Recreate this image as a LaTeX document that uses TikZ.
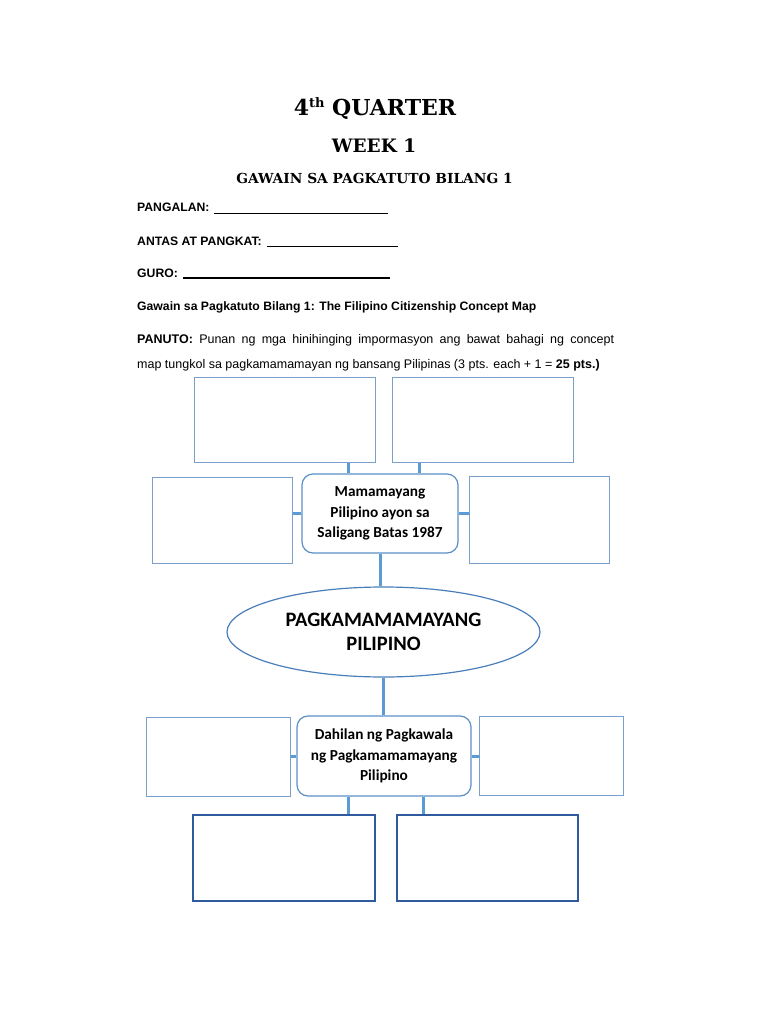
\documentclass[tikz,border=0pt]{standalone}
\usepackage{fontspec}
\setmainfont{Liberation Sans}
\newfontfamily\headfont{DejaVu Serif}
\newfontfamily\mapfont{Carlito}
\usetikzlibrary{shapes.geometric,calc}
\definecolor{boxblue}{HTML}{7A9FCE}
\definecolor{connblue}{HTML}{5B9BD5}
\definecolor{rboxblue}{HTML}{5B8FC7}
\definecolor{darkblue}{HTML}{2F5A9E}
\definecolor{ellblue}{HTML}{4A7EBB}
\begin{document}
\begin{tikzpicture}[x=1pt,y=-1pt,
  txt/.style={inner sep=0pt, anchor=base west},
  ctxt/.style={inner sep=0pt, anchor=base},
  blank/.style={draw=boxblue, line width=1pt, inner sep=0pt},
  darkblank/.style={draw=darkblue, line width=1.8pt, inner sep=0pt},
  rbox/.style={draw=rboxblue, line width=1.2pt, rounded corners=11pt, inner sep=0pt,
     font=\mapfont\bfseries\fontsize{15.3}{20.5}\selectfont, align=center},
  conn/.style={draw=connblue, line width=3pt},
  uline/.style={draw=black, line width=0.8pt}]
\useasboundingbox (0,0) rectangle (768,1024);
\fill[white] (0,0) rectangle (768,1024);

% headings
\node[ctxt, font=\headfont\bfseries\fontsize{22}{26}\selectfont] (h1) at (375,116) {4{\fontsize{13}{13}\selectfont\raisebox{8pt}{th}} QUARTER};
\node[ctxt, font=\headfont\bfseries\fontsize{18.5}{22}\selectfont] (h2) at (374,153) {WEEK 1};
\node[ctxt, font=\headfont\bfseries\fontsize{13.8}{16}\selectfont] (h3) at (374.5,184) {GAWAIN SA PAGKATUTO BILANG 1};

% form lines
\node[txt, font=\bfseries\fontsize{12.2}{14}\selectfont] (pang) at (137,212) {PANGALAN:};
\coordinate (pangend) at (388,213);
\draw[uline] (pang.base east) ++(4,1) -- (pangend);
\node[txt, font=\bfseries\fontsize{12.2}{14}\selectfont] (antas) at (137,245) {ANTAS AT PANGKAT:};
\coordinate (antasend) at (398,246);
\draw[uline] (antas.base east) ++(5,1) -- (antasend);
\node[txt, font=\bfseries\fontsize{12.2}{14}\selectfont] (guro) at (137,277) {GURO:};
\coordinate (guroend) at (390,278);
\draw[draw=black, line width=1.6pt] (guro.base east) ++(5,1) -- (guroend);

\node[txt, font=\bfseries\fontsize{12.2}{14}\selectfont] (gawain) at (137,310) {Gawain sa Pagkatuto Bilang 1: The Filipino Citizenship Concept Map};
\node[txt, font=\fontsize{12.5}{14}\selectfont] (pan1) at (137,343) {\makebox[477pt][s]{\textbf{PANUTO:} Punan ng mga hinihinging impormasyon ang bawat bahagi ng concept}};
\node[txt, font=\fontsize{12.5}{14}\selectfont] (pan2) at (137,368) {map tungkol sa pagkamamamayan ng bansang Pilipinas (3 pts. each + 1 = \textbf{25 pts.)}};

% upper cluster
\node[blank, minimum width=181pt, minimum height=85pt] (tl) at (284.5,419.5) {};
\node[blank, minimum width=181pt, minimum height=85pt] (tr) at (482.5,419.5) {};
\node[blank, minimum width=140pt, minimum height=86pt] (ml) at (222,520) {};
\node[blank, minimum width=140pt, minimum height=87pt] (mr) at (539,519.5) {};
\node[rbox, minimum width=156pt, minimum height=79pt] (c1) at (380,513.5)
  {Mamamayang\\Pilipino ayon sa\\Saligang Batas 1987};

% ellipse
\node[ellipse, draw=ellblue, line width=1.2pt, minimum width=313pt, minimum height=90pt,
  inner sep=0pt, align=center, font=\mapfont\bfseries\fontsize{20.5}{24}\selectfont] (ell) at (383.5,632)
  {\raisebox{-2pt}{PAGKAMAMAMAYANG}\\\raisebox{-2pt}{PILIPINO}};

% lower cluster
\node[rbox, minimum width=174pt, minimum height=80pt] (c2) at (384,756)
  {Dahilan ng Pagkawala\\ng Pagkamamamayang\\Pilipino};
\node[blank, minimum width=144pt, minimum height=79pt] (bl) at (218,756.5) {};
\node[blank, minimum width=144pt, minimum height=79pt] (br) at (551,755.5) {};
\node[darkblank, minimum width=182pt, minimum height=86pt] (dl) at (284,858) {};
\node[darkblank, minimum width=181pt, minimum height=86pt] (dr) at (487.5,858) {};

% connectors
\coordinate (a1) at ($(c1.north west)!0.3!(c1.north east)$);
\coordinate (a2) at ($(c1.north west)!0.75!(c1.north east)$);
\draw[conn] (a1) -- (a1 |- tl.south);
\draw[conn] (a2) -- (a2 |- tr.south);
\draw[conn] (c1.west) -- (c1.west -| ml.east);
\draw[conn] (c1.east) -- (c1.east -| mr.west);
\draw[conn] (c1.south) -- (c1.south |- ell.north);
\draw[conn] (ell.south) -- (ell.south |- c2.north);
\draw[conn] (c2.west) -- (c2.west -| bl.east);
\draw[conn] (c2.east) -- (c2.east -| br.west);
\coordinate (b1) at ($(c2.south west)!0.3!(c2.south east)$);
\coordinate (b2) at ($(c2.south west)!0.724!(c2.south east)$);
\draw[conn] (b1) -- (b1 |- dl.north);
\draw[conn] (b2) -- (b2 |- dr.north);
\end{tikzpicture}
\end{document}
